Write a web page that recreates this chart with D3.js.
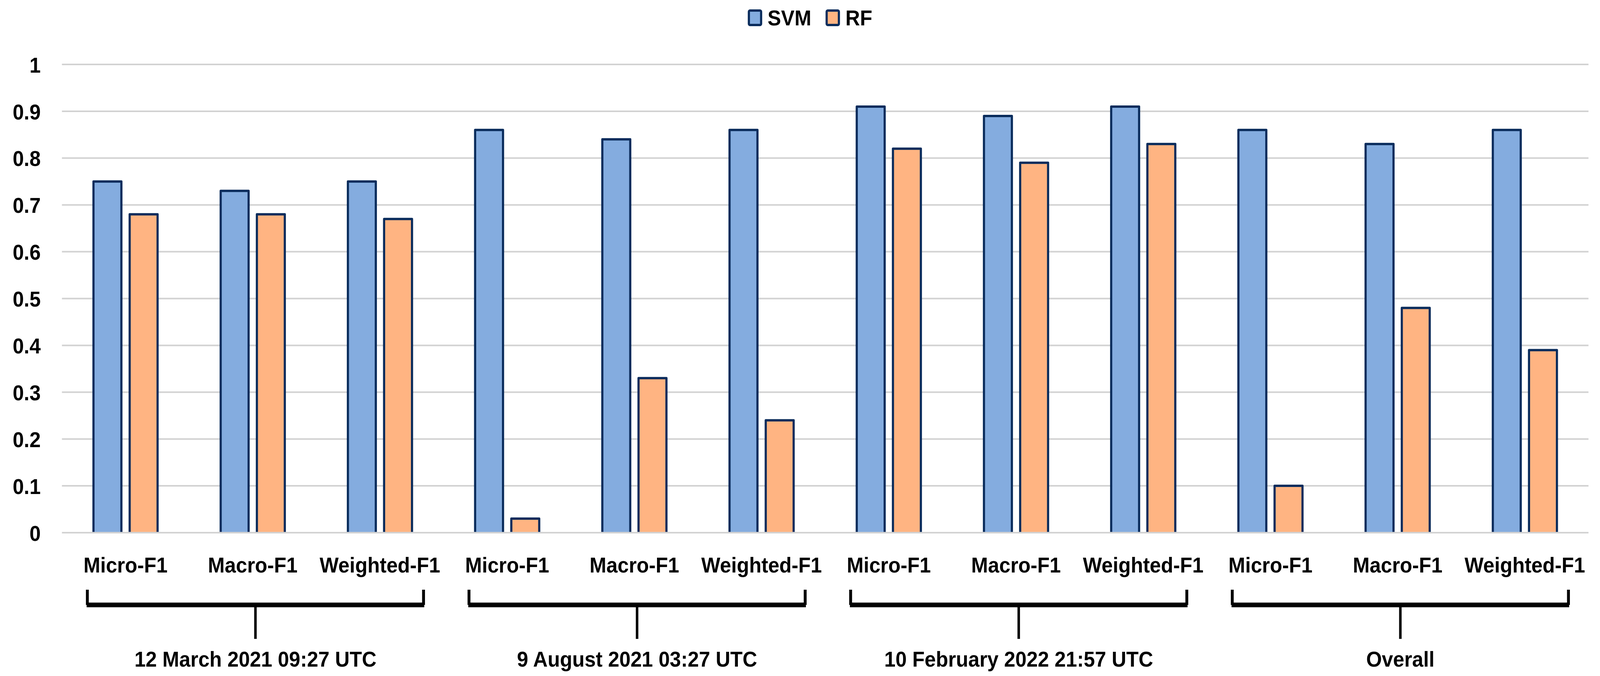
<!doctype html>
<html lang='en'>
  <head>
    <meta charset="utf-8">
    <script src="https://d3js.org/d3.v7.min.js"></script>
    <title>SVM vs RF - F1 scores</title>
  <style>
  html, body {
    margin: 0;
    padding: 0;
    overflow: hidden;
    background-color: white;
  }

  svg {
    display: block;
    width: 100vw;
    height: 100vh;
  }

  svg text {
    font-family: "Liberation Sans", Arial, sans-serif;
    font-weight: bold;
    font-size: 56px;
    fill: #000;
  }

  .grid line {
    stroke: #d2d2d2;
    stroke-width: 4;
  }

  .bar {
    stroke: #0a2c5c;
    stroke-width: 6;
    stroke-linejoin: round;
  }

  .bracket {
    fill: none;
    stroke: #000;
    stroke-linejoin: round;
  }
  </style>
  </head>

  <body>
    <div id='chart'></div>
    <script>
    const categories = ['Micro-F1', 'Macro-F1', 'Weighted-F1',
                        'Micro-F1', 'Macro-F1', 'Weighted-F1',
                        'Micro-F1', 'Macro-F1', 'Weighted-F1',
                        'Micro-F1', 'Macro-F1', 'Weighted-F1'];
    const groups = ['12 March 2021 09:27 UTC', '9 August 2021 03:27 UTC',
                    '10 February 2022 21:57 UTC', 'Overall'];
    const groupSize = 3;
    const series = ['SVM', 'RF'];
    const svmValues = [0.75, 0.73, 0.75, 0.86, 0.84, 0.86, 0.91, 0.89, 0.91, 0.86, 0.83, 0.86];
    const rfValues  = [0.68, 0.68, 0.67, 0.03, 0.33, 0.24, 0.82, 0.79, 0.83, 0.10, 0.48, 0.39];
    const yTicks = [0, 0.1, 0.2, 0.3, 0.4, 0.5, 0.6, 0.7, 0.8, 0.9, 1];
    const colors = {SVM: '#84acdf', RF: '#ffb482'};

    const w = 4444;
    const h = 1731;

    // the window is narrower than the picture (4096 wide), so stretch the drawing to fill it
    const svg = d3.select('#chart')
                  .append('svg')
                  .attr('viewBox', '0 0 ' + w + ' ' + h)
                  .attr('preserveAspectRatio', 'none');

    const x0 = d3.scaleBand()
                 .domain(d3.range(categories.length))
                 .range([172, 4412])
                 .paddingInner(0.479)
                 .paddingOuter(0.2395);

    const x1 = d3.scaleBand()
                 .domain(series)
                 .range([0, x0.bandwidth()])
                 .paddingInner(0.169);

    const y = d3.scaleLinear()
                .domain([0, 1])
                .range([1364, 165]);

    // y labels
    const yAxis = d3.axisLeft(y).tickValues(yTicks).tickSize(0).tickPadding(0).tickFormat(d3.format('~g'));
    svg.append('g')
       .attr('transform', 'translate(113,0)')
       .call(yAxis)
       .call(g => g.select('.domain').remove())
       .selectAll('text')
       .attr('font-family', null)
       .attr('font-size', null)
       .attr('dy', '0.36em');

    // gridlines (non-zero ones behind the bars)
    svg.append('g')
       .attr('class', 'grid')
       .selectAll('line')
       .data(yTicks.filter(d => d > 0))
       .enter()
       .append('line')
       .attr('x1', 172)
       .attr('x2', 4412)
       .attr('y1', d => y(d))
       .attr('y2', d => y(d));

    // bars: open at the bottom, like the original
    const rows = categories.map((c, i) => ({i: i, SVM: svmValues[i], RF: rfValues[i]}));

    svg.append('g')
       .selectAll('g')
       .data(rows)
       .enter()
       .append('g')
       .attr('transform', d => 'translate(' + x0(d.i) + ',0)')
       .selectAll('path')
       .data(d => series.map(s => ({key: s, value: d[s]})))
       .enter()
       .append('path')
       .attr('class', 'bar')
       .attr('fill', d => colors[d.key])
       .attr('d', d => {
         const bx = x1(d.key) + 3;
         const bw = x1.bandwidth() - 6;
         return 'M' + bx + ',' + y(0) + 'V' + y(d.value) + 'H' + (bx + bw) + 'V' + y(0);
       });

    // zero line over the bar bottoms
    svg.append('g')
       .attr('class', 'grid')
       .append('line')
       .attr('x1', 172)
       .attr('x2', 4412)
       .attr('y1', y(0))
       .attr('y2', y(0));

    // category labels
    svg.append('g')
       .selectAll('text')
       .data(categories)
       .enter()
       .append('text')
       .attr('x', (d, i) => x0(i) + x0.bandwidth() / 2)
       .attr('y', 1466)
       .attr('text-anchor', 'middle')
       .text(d => d);

    // group brackets + labels
    const bracketTop = 1510;
    const bracketY = 1549;
    const tickBottom = 1636;

    const grp = svg.append('g')
                   .selectAll('g')
                   .data(groups)
                   .enter()
                   .append('g');

    grp.each(function(d, gi) {
      const first = gi * groupSize;
      const last = first + groupSize - 1;
      const left = x0(first) - 14;
      const right = x0(last) + x0.bandwidth() + 29;
      const mid = (left + right) / 2;
      const g = d3.select(this);

      g.append('path')
       .attr('class', 'bracket')
       .attr('stroke-width', 8)
       .attr('d', 'M' + left + ',' + bracketTop + 'V' + bracketY + 'M' + right + ',' + bracketTop + 'V' + bracketY);

      g.append('line')
       .attr('class', 'bracket')
       .attr('stroke-width', 12)
       .attr('x1', left - 2)
       .attr('x2', right + 2)
       .attr('y1', bracketY)
       .attr('y2', bracketY);

      g.append('line')
       .attr('class', 'bracket')
       .attr('stroke-width', 7)
       .attr('x1', mid)
       .attr('x2', mid)
       .attr('y1', bracketY)
       .attr('y2', tickBottom);

      g.append('text')
       .attr('x', mid)
       .attr('y', 1707)
       .attr('text-anchor', 'middle')
       .text(d);
    });

    // legend
    const legend = svg.append('g')
                      .selectAll('g')
                      .data(series)
                      .enter()
                      .append('g')
                      .attr('transform', (d, i) => 'translate(' + (2080 + i * 216) + ',0)');

    legend.append('rect')
          .attr('class', 'bar')
          .attr('x', 0)
          .attr('y', 27)
          .attr('width', 34)
          .attr('height', 37)
          .attr('rx', 3)
          .attr('fill', d => colors[d]);

    legend.append('text')
          .attr('x', 52)
          .attr('y', 65)
          .text(d => d);
    </script>
  </body>
</html>
